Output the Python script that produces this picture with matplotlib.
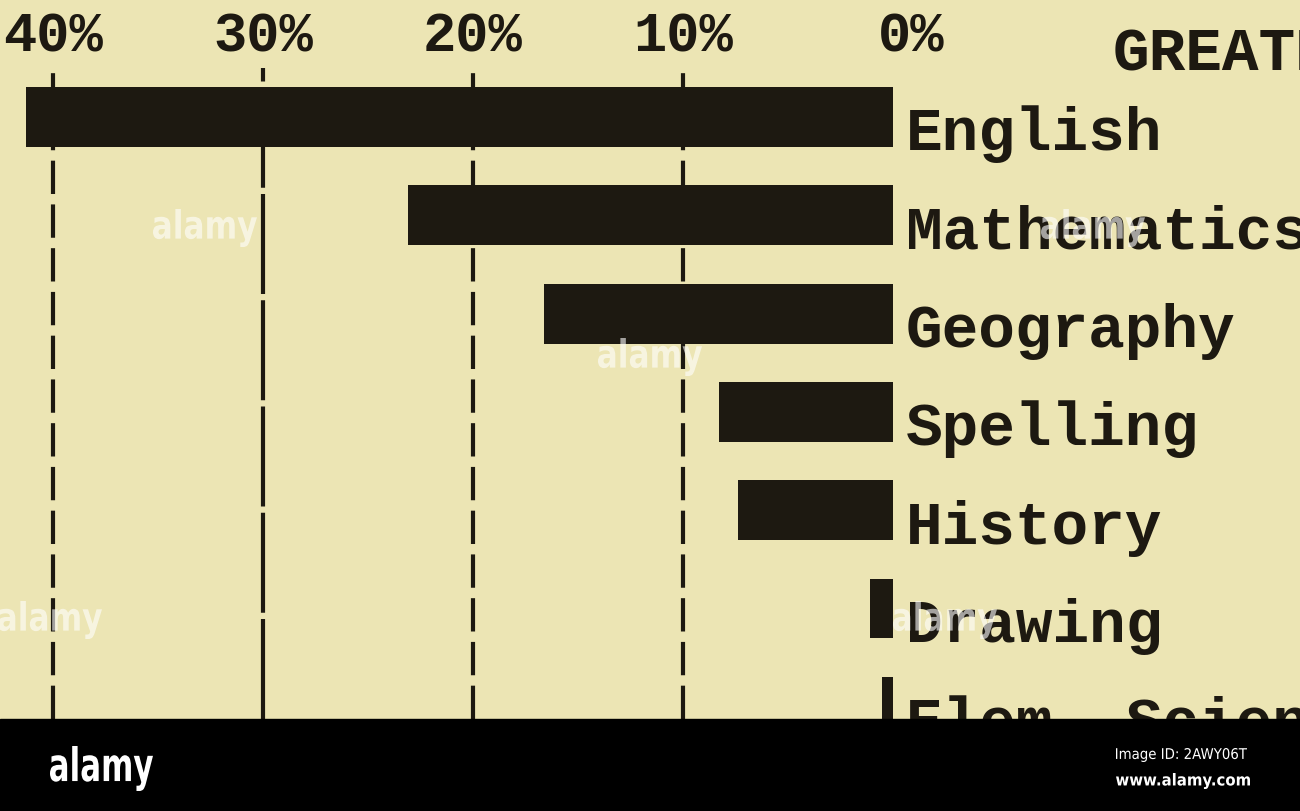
import matplotlib
matplotlib.use("Agg")
import matplotlib.pyplot as plt
from matplotlib.patches import Rectangle, PathPatch
from matplotlib.textpath import TextPath
from matplotlib.font_manager import FontProperties
from matplotlib.transforms import ScaledTranslation, Affine2D

# ---- data ----
subjects = ["English", "Mathematics", "Geography", "Spelling", "History",
            "Drawing", "Elem. Science"]
percent = [41.3, 23.1, 16.6, 8.3, 7.4, 1.1, 0.5]
tick_values = [40, 30, 20, 10, 0]
tick_labels = ["40%", "30%", "20%", "10%", "0%"]
title_text = "GREATEST"

bg = "#ece5b4"
ink = "#1d1911"
mono = ["Liberation Mono", "DejaVu Sans Mono"]

fig = plt.figure(figsize=(13, 8.12), dpi=100)
fig.patch.set_facecolor(bg)

W, H = 1300.0, 812.0
ax = fig.add_axes([0, 92 / H, 893 / W, (720 - 68.85) / H])
ax.set_facecolor(bg)
ypos = list(range(len(subjects)))
ax.barh(ypos, percent, height=0.61, color=ink, zorder=3)
ax.set_xlim(42.52, 0)
ax.set_ylim(6.124, -0.5)
for s in ax.spines.values():
    s.set_visible(False)

ax.xaxis.tick_top()
ax.set_xticks(tick_values)
ax.set_axisbelow(True)
ax.grid(axis="x", linestyle=(0, (8, 2.5)), linewidth=3, color=ink, zorder=1)
ax.grid(axis="y", visible=False)
gls = ax.xaxis.get_gridlines()
gls[-1].set_visible(False)
gls[1].set_linestyle((0, (24, 1.5)))

ax.set_xticklabels(tick_labels, fontfamily=mono, fontweight="bold",
                   fontsize=40, color=ink)
ax.tick_params(axis="x", length=0, pad=4)
lbls = ax.get_xticklabels()
lbls[-1].set_transform(lbls[-1].get_transform() +
                       ScaledTranslation(0.18, 0, fig.dpi_scale_trans))

ax.yaxis.tick_right()
ax.set_yticks(ypos)
ax.set_yticklabels(subjects, fontfamily=mono, fontweight="bold",
                   fontsize=44, color=ink)
ax.tick_params(axis="y", length=0, pad=9)
for t in ax.get_yticklabels():
    t.set_transform(t.get_transform() +
                    ScaledTranslation(0, -0.1, fig.dpi_scale_trans))

fig.text(1113 / W, 1 - 55 / H, title_text, fontfamily=mono, fontweight="bold",
         fontsize=44, color=ink, ha="left", va="center")


def boxed_text(text, x0, y0, x1, y1, color, alpha=1.0, weight="bold", z=6):
    """Draw text stretched into the pixel box (x0,y0)-(x1,y1), top-left origin."""
    tp = TextPath((0, 0), text, size=1,
                  prop=FontProperties(family="DejaVu Sans", weight=weight))
    ext = tp.get_extents()
    sx = (x1 - x0) / ext.width / 100.0
    sy = (y1 - y0) / ext.height / 100.0
    tr = (Affine2D().translate(-ext.x0, -ext.y0).scale(sx, sy)
          .translate(x0 / 100.0, (H - y1) / 100.0) + fig.dpi_scale_trans)
    fig.patches.append(PathPatch(tp, transform=tr, facecolor=color,
                                 edgecolor="none", alpha=alpha, zorder=z))


# watermarks
for (x, y) in [(205, 228), (650, 357), (50, 620), (945, 620), (1093, 228)]:
    boxed_text("alamy", x - 52, y - 18, x + 52, y + 20, "white", alpha=0.6)

# bottom band
fig.patches.append(Rectangle((0, 0), 1, 92 / H, transform=fig.transFigure,
                             color="black", zorder=5))
boxed_text("alamy", 50, 747, 153, 792, "white")
boxed_text("Image ID: 2AWY06T", 1116, 749, 1247, 763, "white", weight="normal")
boxed_text("www.alamy.com", 1116, 774, 1250, 790, "white")

fig.savefig("out.png", dpi=100, facecolor=bg)
